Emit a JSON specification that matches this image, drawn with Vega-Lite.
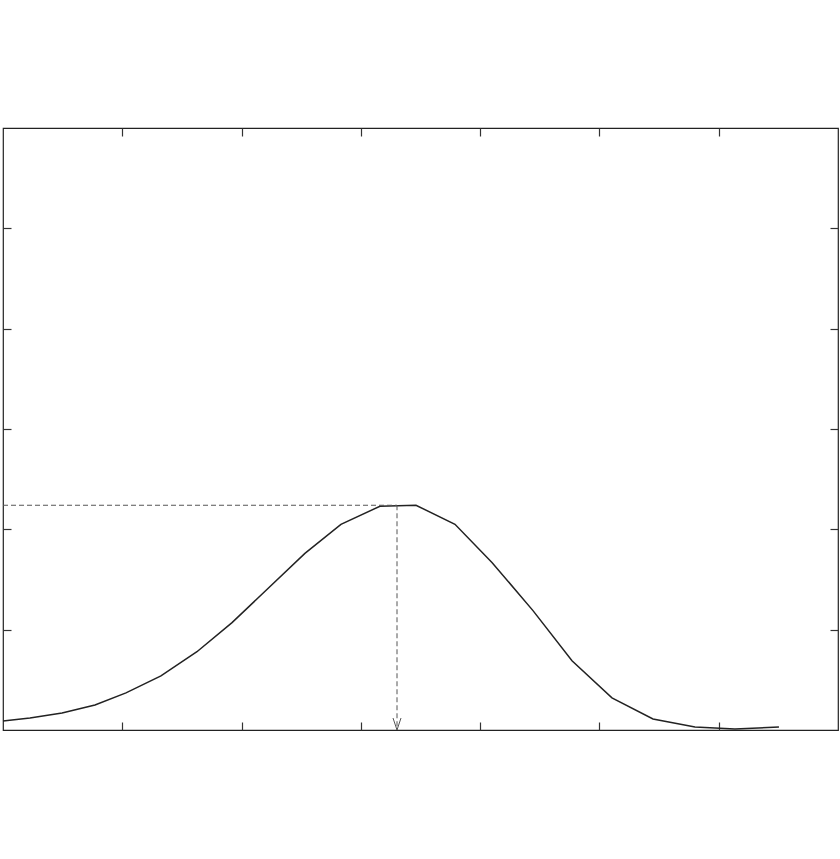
{
  "$schema": "https://vega.github.io/schema/vega-lite/v6.json",
  "width": 835,
  "height": 602,
  "autosize": {"type": "none"},
  "padding": {"left": 3, "top": 128, "right": 2, "bottom": 129},
  "background": "white",
  "config": {
    "view": {"stroke": "#222", "strokeWidth": 1.2},
    "axis": {"labels": false, "domain": false, "grid": false, "title": null, "tickSize": -8, "tickColor": "#333", "tickWidth": 1.2}
  },
  "datasets": {
    "curve": [
      {"x": 0, "y": 0.09},
      {"x": 0.226, "y": 0.12},
      {"x": 0.495, "y": 0.17},
      {"x": 0.771, "y": 0.25},
      {"x": 1.031, "y": 0.37},
      {"x": 1.324, "y": 0.54},
      {"x": 1.626, "y": 0.78},
      {"x": 1.92, "y": 1.07},
      {"x": 2.23, "y": 1.42},
      {"x": 2.531, "y": 1.76},
      {"x": 2.833, "y": 2.05},
      {"x": 3.16, "y": 2.23},
      {"x": 3.462, "y": 2.24},
      {"x": 3.789, "y": 2.05},
      {"x": 4.099, "y": 1.67},
      {"x": 4.443, "y": 1.19},
      {"x": 4.77, "y": 0.69},
      {"x": 5.105, "y": 0.32},
      {"x": 5.449, "y": 0.11},
      {"x": 5.801, "y": 0.03},
      {"x": 6.136, "y": 0.01},
      {"x": 6.505, "y": 0.03}
    ],
    "hline": [
      {"x": 0, "y": 2.24},
      {"x": 3.303, "y": 2.24}
    ],
    "vline": [
      {"x": 3.303, "y": 2.24},
      {"x": 3.303, "y": 0}
    ],
    "arrow": [
      {"x": 3.303, "y": 0}
    ]
  },
  "resolve": {"axis": {"x": "independent", "y": "independent"}},
  "layer": [
    {
      "data": {"name": "curve"},
      "mark": {"type": "line", "color": "#222", "strokeWidth": 1.5},
      "encoding": {
        "x": {"field": "x", "type": "quantitative", "scale": {"domain": [0, 7], "nice": false, "zero": false},
          "axis": {"orient": "bottom", "values": [1, 2, 3, 4, 5, 6]}},
        "y": {"field": "y", "type": "quantitative", "scale": {"domain": [0, 6], "nice": false, "zero": false},
          "axis": {"orient": "left", "values": [1, 2, 3, 4, 5]}}
      }
    },
    {
      "data": {"name": "hline"},
      "mark": {"type": "line", "color": "#555", "strokeWidth": 1, "strokeDash": [5, 3]},
      "encoding": {
        "x": {"field": "x", "type": "quantitative", "axis": {"orient": "top", "values": [1, 2, 3, 4, 5, 6]}},
        "y": {"field": "y", "type": "quantitative", "axis": {"orient": "right", "values": [1, 2, 3, 4, 5]}}
      }
    },
    {
      "data": {"name": "vline"},
      "mark": {"type": "line", "color": "#555", "strokeWidth": 1, "strokeDash": [5, 3]},
      "encoding": {
        "x": {"field": "x", "type": "quantitative", "axis": null},
        "y": {"field": "y", "type": "quantitative", "axis": null}
      }
    },
    {
      "data": {"name": "arrow"},
      "mark": {"type": "point", "shape": "M-1,-3L0,0L1,-3", "filled": false, "size": 64, "color": "#555", "strokeWidth": 1, "opacity": 1},
      "encoding": {
        "x": {"field": "x", "type": "quantitative", "axis": null},
        "y": {"field": "y", "type": "quantitative", "axis": null}
      }
    }
  ]
}
